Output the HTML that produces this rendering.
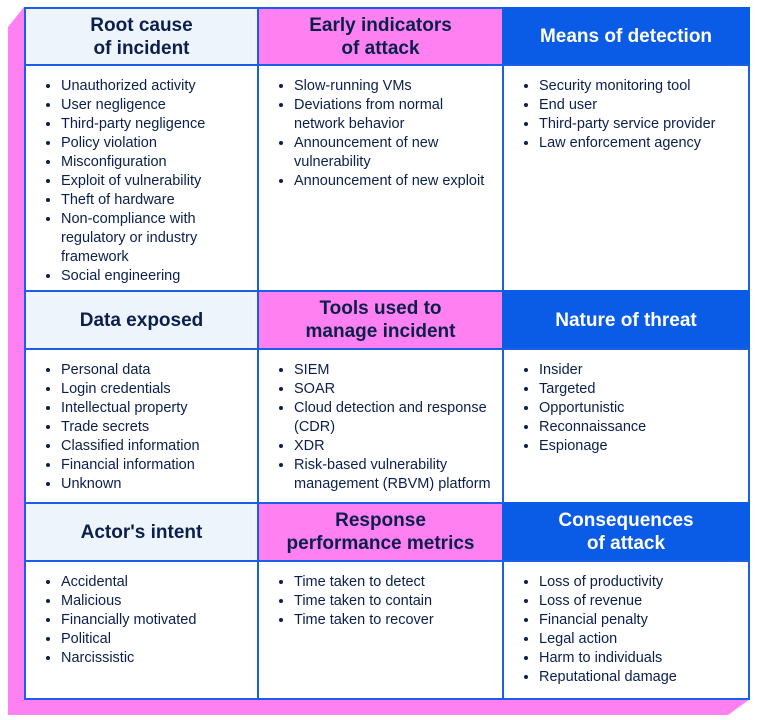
<!DOCTYPE html>
<html><head><style>
body{margin:0;width:757px;height:720px;background:#fff;position:relative;overflow:hidden;font-family:"Liberation Sans",sans-serif;color:#0b1f4d}
.c{position:absolute;box-sizing:border-box;border:2px solid #1a5fe8}
.h{display:flex;align-items:center;justify-content:center;text-align:center;font-weight:bold;font-size:19px;line-height:23px}
.h1{background:#eef4fc}.h2{background:#ff80f0}.h3{background:#0a5ce6;color:#fff;border-color:#0a5ce6}
.b{background:#fff}
ul{margin:0;padding:11px 0 0 35px;font-size:14.5px;line-height:19px}
li{padding-left:0}
</style></head><body>
<svg width="757" height="720" style="position:absolute;left:0;top:0"><polygon points="24,7 8,27 8,715 728,715 750,699 24,699" fill="#ff80f0"/></svg>
<div class="c h h1" style="left:24px;top:7px;width:235px;height:59px">Root cause<br>of incident</div>
<div class="c h h2" style="left:257px;top:7px;width:247px;height:59px">Early indicators<br>of attack</div>
<div class="c h h3" style="left:502px;top:7px;width:248px;height:59px">Means of detection</div>
<div class="c b" style="left:24px;top:64px;width:235px;height:228px"><ul><li>Unauthorized activity</li><li>User negligence</li><li>Third-party negligence</li><li>Policy violation</li><li>Misconfiguration</li><li>Exploit of vulnerability</li><li>Theft of hardware</li><li>Non-compliance with<br>regulatory or industry<br>framework</li><li>Social engineering</li></ul></div>
<div class="c b" style="left:257px;top:64px;width:247px;height:228px"><ul><li>Slow-running VMs</li><li>Deviations from normal<br>network behavior</li><li>Announcement of new<br>vulnerability</li><li>Announcement of new exploit</li></ul></div>
<div class="c b" style="left:502px;top:64px;width:248px;height:228px"><ul><li>Security monitoring tool</li><li>End user</li><li>Third-party service provider</li><li>Law enforcement agency</li></ul></div>
<div class="c h h1" style="left:24px;top:290px;width:235px;height:60px">Data exposed</div>
<div class="c h h2" style="left:257px;top:290px;width:247px;height:60px">Tools used to<br>manage incident</div>
<div class="c h h3" style="left:502px;top:290px;width:248px;height:60px">Nature of threat</div>
<div class="c b" style="left:24px;top:348px;width:235px;height:156px"><ul><li>Personal data</li><li>Login credentials</li><li>Intellectual property</li><li>Trade secrets</li><li>Classified information</li><li>Financial information</li><li>Unknown</li></ul></div>
<div class="c b" style="left:257px;top:348px;width:247px;height:156px"><ul><li>SIEM</li><li>SOAR</li><li>Cloud detection and response<br>(CDR)</li><li>XDR</li><li>Risk-based vulnerability<br>management (RBVM) platform</li></ul></div>
<div class="c b" style="left:502px;top:348px;width:248px;height:156px"><ul><li>Insider</li><li>Targeted</li><li>Opportunistic</li><li>Reconnaissance</li><li>Espionage</li></ul></div>
<div class="c h h1" style="left:24px;top:502px;width:235px;height:60px">Actor's intent</div>
<div class="c h h2" style="left:257px;top:502px;width:247px;height:60px">Response<br>performance metrics</div>
<div class="c h h3" style="left:502px;top:502px;width:248px;height:60px">Consequences<br>of attack</div>
<div class="c b" style="left:24px;top:560px;width:235px;height:140px"><ul><li>Accidental</li><li>Malicious</li><li>Financially motivated</li><li>Political</li><li>Narcissistic</li></ul></div>
<div class="c b" style="left:257px;top:560px;width:247px;height:140px"><ul><li>Time taken to detect</li><li>Time taken to contain</li><li>Time taken to recover</li></ul></div>
<div class="c b" style="left:502px;top:560px;width:248px;height:140px"><ul><li>Loss of productivity</li><li>Loss of revenue</li><li>Financial penalty</li><li>Legal action</li><li>Harm to individuals</li><li>Reputational damage</li></ul></div>
</body></html>
